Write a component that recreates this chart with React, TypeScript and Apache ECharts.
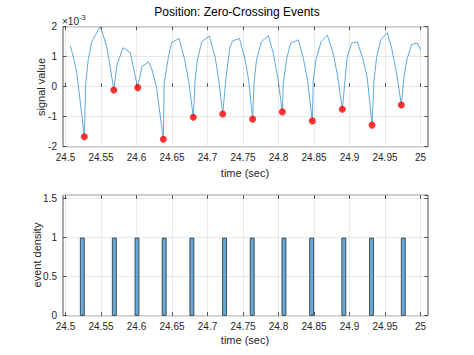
import React, { useEffect, useRef } from "react";
import * as echarts from "echarts";

const signalTime = [
  24.5068, 24.5115, 24.516, 24.5265, 24.5285, 24.532, 24.537, 24.549, 24.5575, 24.562,
  24.568, 24.5725, 24.581, 24.591, 24.595, 24.6017, 24.6077, 24.617, 24.622, 24.628,
  24.6378, 24.639, 24.645, 24.6496, 24.66, 24.668, 24.674, 24.68, 24.6824, 24.6857,
  24.692, 24.7025, 24.7106, 24.716, 24.7214, 24.726, 24.7317, 24.7355, 24.745, 24.753,
  24.758, 24.7636, 24.7655, 24.769, 24.776, 24.7857, 24.7927, 24.799, 24.8054, 24.8068,
  24.8116, 24.8172, 24.828, 24.835, 24.841, 24.8476, 24.849, 24.8528, 24.86, 24.8687,
  24.877, 24.883, 24.8899, 24.8937, 24.897, 24.903, 24.911, 24.9186, 24.925, 24.9317,
  24.9345, 24.9383, 24.944, 24.9532, 24.9594, 24.966, 24.973, 24.9768, 24.9806, 24.9876,
  24.9955, 25.0003,
];
const signalValue = [
  1.36, 0.95, 0.45, -1.67, 0.1, 0.9, 1.5, 2.0, 1.39, 0.8,
  -0.11, 0.72, 1.3, 1.15, 0.7, -0.03, 0.67, 0.83, 0.55, 0.0,
  -1.75, 0.11, 1.0, 1.47, 1.61, 0.89, 0.1, -1.02, 0.17, 0.89,
  1.5, 1.69, 1.0, 0.2, -0.91, 0.28, 1.33, 1.53, 1.61, 0.9,
  0.2, -1.08, 0.11, 0.89, 1.5, 1.7, 1.11, 0.3, -0.84, 0.11,
  0.95, 1.45, 1.56, 0.95, 0.2, -1.14, 0.22, 0.91, 1.5, 1.72,
  1.11, 0.4, -0.75, 0.22, 1.0, 1.45, 1.5, 0.95, 0.3, -1.28,
  0.22, 1.0, 1.56, 1.8, 1.28, 0.5, -0.61, 0.33, 0.89, 1.41,
  1.45, 1.22,
];
const eventTime = [24.5265, 24.568, 24.6017, 24.6378, 24.68, 24.7214, 24.7636, 24.8054, 24.8476, 24.8899, 24.9317, 24.973];
const eventValue = [-1.67, -0.11, -0.03, -1.75, -1.02, -0.91, -1.08, -0.84, -1.14, -0.75, -1.28, -0.61];
const binCenter = [24.5237, 24.5688, 24.6007, 24.639, 24.678, 24.724, 24.763, 24.8077, 24.8467, 24.892, 24.931, 24.9758];
const binDensity = [1, 1, 1, 1, 1, 1, 1, 1, 1, 1, 1, 1];

const xTicks = { min: 24.5, max: 25, interval: 0.05 };
const topY = { min: -2, max: 2, interval: 1 };
const botY = { min: 0, max: 1.545, interval: 0.5 };

const FONT = "'Liberation Sans', Arial, Helvetica, sans-serif";
const DARK = "#262626";
const GRIDC = "#e3e3e3";

export default function App() {
  const ref = useRef<HTMLDivElement>(null);
  useEffect(() => {
    if (!ref.current) return;
    const chart = echarts.init(ref.current, undefined, { renderer: "svg" });

    const innerL = 65.5, innerR = 474 - 420.5;
    const boxL = 63, boxR = 474 - 428;
    const topTop = 26.7, topH = 120;
    const botTop = 195.2, botBottom = 355 - 315.7;

    const tick = { show: true, inside: true, length: 3.5, lineStyle: { color: DARK, width: 0.8 } };
    const label = { color: DARK, fontSize: 10, fontFamily: FONT };

    const mkX = (gridIndex: number, pos: "bottom" | "top", withLabels: boolean) => ({
      type: "value", gridIndex, position: pos, ...xTicks,
      axisLine: { show: false },
      axisTick: tick,
      axisLabel: withLabels ? { ...label, margin: 6, formatter: (v: number) => String(+v.toFixed(2)) } : { show: false },
      splitLine: withLabels ? { show: true, lineStyle: { color: GRIDC, width: 0.8 } } : { show: false },
    });
    const hiddenX = (gridIndex: number) => ({ type: "value", gridIndex, min: 0, max: 1, show: false });
    const mkY = (gridIndex: number, pos: "left" | "right", rng: any, withLabels: boolean, show = true) => ({
      type: "value", gridIndex, position: pos, ...rng, show,
      axisLine: { show: false },
      axisTick: tick,
      axisLabel: withLabels ? { ...label, margin: 6, showMaxLabel: rng.max === 2, formatter: (v: number) => String(+v.toFixed(2)) } : { show: false },
      splitLine: withLabels ? { show: true, lineStyle: { color: GRIDC, width: 0.8 } } : { show: false },
    });

    chart.setOption({
      animation: false,
      backgroundColor: "#ffffff",
      grid: [
        { left: innerL, right: innerR, top: topTop, height: topH },
        { left: boxL, right: boxR, top: topTop, height: topH, show: true, borderColor: DARK, borderWidth: 0.8, backgroundColor: "transparent" },
        { left: innerL, right: innerR, top: botTop, bottom: botBottom },
        { left: boxL, right: boxR, top: botTop, bottom: botBottom, show: true, borderColor: DARK, borderWidth: 0.8, backgroundColor: "transparent" },
      ],
      xAxis: [
        mkX(0, "bottom", true),
        mkX(0, "top", false),
        hiddenX(1),
        mkX(2, "bottom", true),
        mkX(2, "top", false),
        hiddenX(3),
      ],
      yAxis: [
        mkY(0, "left", topY, false, false),
        mkY(1, "left", topY, true),
        mkY(1, "right", topY, false),
        mkY(2, "left", botY, false, false),
        mkY(3, "left", botY, true),
        mkY(3, "right", botY, false),
      ],
      series: [
        {
          type: "line", xAxisIndex: 0, yAxisIndex: 0,
          data: signalTime.map((t, i) => [t, signalValue[i]]),
          showSymbol: false, symbol: "none",
          lineStyle: { color: "#4f9fd6", width: 0.9 },
          z: 3,
        },
        {
          type: "scatter", xAxisIndex: 0, yAxisIndex: 0,
          data: eventTime.map((t, i) => [t, eventValue[i]]),
          symbol: "circle", symbolSize: 7,
          itemStyle: { color: "#ff0000" },
          z: 4,
        },
        {
          type: "bar", xAxisIndex: 3, yAxisIndex: 3,
          data: binCenter.map((t, i) => [t, binDensity[i]]),
          barWidth: 4.7,
          itemStyle: { color: "#65a9d8", borderColor: "#1a1a1a", borderWidth: 0.7 },
          z: 3,
        },
      ],
      graphic: [
        { type: "text", left: "center", top: 6, style: { text: "Position: Zero-Crossing Events", fill: "#000", font: `12px ${FONT}` } },
        {
          type: "text", x: 62, y: 13,
          style: {
            text: "{a|×10}{b|-3}", fill: DARK,
            rich: { a: { fontSize: 10, fontFamily: FONT, fill: DARK, verticalAlign: "bottom" }, b: { fontSize: 7.5, fontFamily: FONT, fill: DARK, verticalAlign: "top", padding: [0, 0, 5, 0] } },
          },
        },
        { type: "text", x: 245, y: 173, style: { text: "time (sec)", fill: DARK, font: `11px ${FONT}`, align: "center", verticalAlign: "middle" } },
        { type: "text", x: 245, y: 340, style: { text: "time (sec)", fill: DARK, font: `11px ${FONT}`, align: "center", verticalAlign: "middle" } },
        { type: "text", x: 41, y: 87, rotation: Math.PI / 2, style: { text: "signal value", fill: DARK, font: `11px ${FONT}`, align: "center", verticalAlign: "middle" } },
        { type: "text", x: 37, y: 255, rotation: Math.PI / 2, style: { text: "event density", fill: DARK, font: `11px ${FONT}`, align: "center", verticalAlign: "middle" } },
      ],
    });
    return () => chart.dispose();
  }, []);
  return <div ref={ref} style={{ position: "fixed", left: 0, top: 0, width: 474, height: 355 }} />;
}
